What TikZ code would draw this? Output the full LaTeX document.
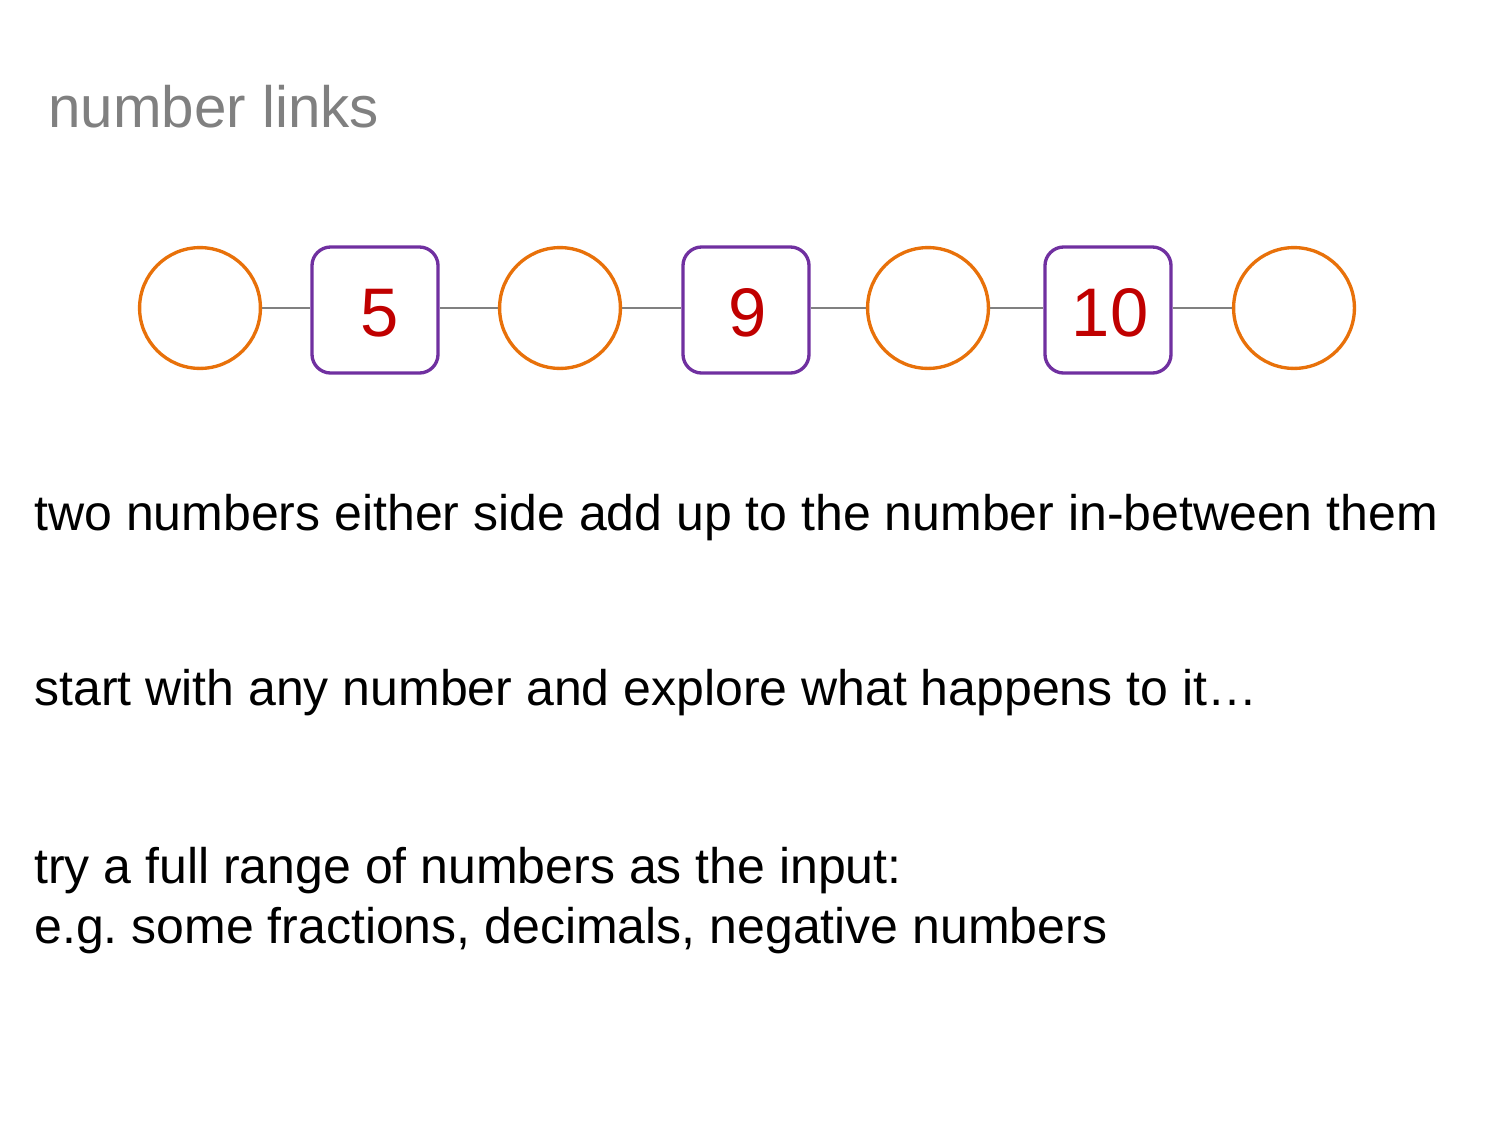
\documentclass[tikz,border=0pt]{standalone}
\usepackage{fontspec}
\setmainfont{Liberation Sans}
\definecolor{orng}{HTML}{E8710A}
\definecolor{purp}{HTML}{7030A0}
\definecolor{rednum}{HTML}{C00000}
\definecolor{graytxt}{HTML}{808080}
\frenchspacing
\begin{document}
\begin{tikzpicture}[x=0.48pt,y=-0.48pt,
  ring/.style={circle,draw=orng,line width=1.6pt,minimum size=58pt,inner sep=0pt},
  sq/.style={rectangle,rounded corners=9pt,draw=purp,line width=1.6pt,minimum size=60.5pt,inner sep=0pt,text=rednum,text height=23.6pt,text depth=0pt,font=\fontsize{33}{36}\selectfont},
  link/.style={draw=graytxt,line width=1.2pt},
  body/.style={anchor=base west,inner sep=0pt,font=\fontsize{24}{29}\selectfont}]
\useasboundingbox (0,0) rectangle (1500,1125);
\node[anchor=base west,inner sep=0pt,text=graytxt,font=\fontsize{28}{33}\selectfont] (title) at (48,127) {number links};
\node[ring] (c1) at (200,308) {};
\node[sq] (s1) at (375,310) {\hspace*{4pt}\raisebox{-1pt}{5}};
\node[ring] (c2) at (560,308) {};
\node[sq] (s2) at (746,310) {\hspace*{2pt}\raisebox{-1pt}{9}};
\node[ring] (c3) at (928,308) {};
\node[sq] (s3) at (1108,310) {\hspace*{2pt}\raisebox{-1pt}{10}};
\node[ring] (c4) at (1294,308) {};
\draw[link] (c1.east) -- (c1.east -| s1.west);
\draw[link] (c2.west -| s1.east) -- (c2.west);
\draw[link] (c2.east) -- (c2.east -| s2.west);
\draw[link] (c3.west -| s2.east) -- (c3.west);
\draw[link] (c3.east) -- (c3.east -| s3.west);
\draw[link] (c4.west -| s3.east) -- (c4.west);
\node[body] (t1) at (34,530) {two numbers either side add up to the number in-between them};
\node[body] (t2) at (34,705) {start with any number and explore what happens to it…};
\node[body] (t3) at (34,883) {try a full range of numbers as the input:};
\node[body] (t4) at (34,943) {e.g. some fractions, decimals, negative numbers};
\end{tikzpicture}
\end{document}
